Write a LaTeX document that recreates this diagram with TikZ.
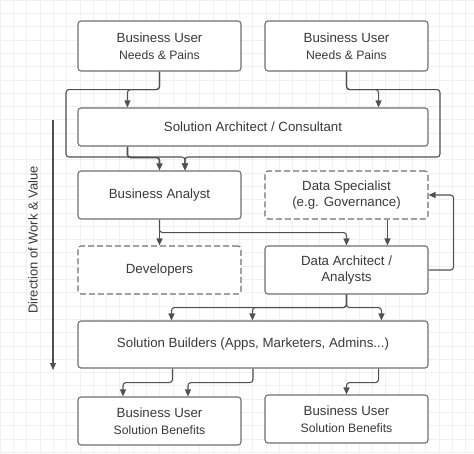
\documentclass[tikz,border=0pt]{standalone}
\usepackage{fontspec}
\setmainfont{Liberation Sans}
\usetikzlibrary{arrows.meta}

\definecolor{inkcol}{HTML}{3A3A3A}
\definecolor{framecol}{HTML}{707070}
\definecolor{linkcol}{HTML}{505050}
\definecolor{gridcol}{HTML}{F0F0F0}

\tikzset{
  box/.style={draw=framecol, line width=1.1pt, rounded corners=3pt, fill=white,
    text=inkcol, align=center, minimum width=163pt, minimum height=48pt,
    font=\fontsize{13.3}{16.5}\selectfont},
  widebox/.style={box, minimum width=350pt},
  dashbox/.style={box, dash pattern=on 6pt off 3pt},
  link/.style={draw=linkcol, line width=1.1pt, rounded corners=3pt,
    -{Triangle[length=7pt,width=6pt]}},
}
\newcommand{\sub}[1]{{\fontsize{12.2}{14.5}\selectfont #1}}

\begin{document}
\begin{tikzpicture}[x=1pt, y=-1pt]

\useasboundingbox (0,0) rectangle (474,453);
\fill[white] (0,0) rectangle (474,453);
\draw[gridcol, line width=0.6pt, step=13.3pt] (0,0) grid (474,453);

% Business users on top
\node[box, minimum height=50pt] (bu1) at (159.5,46) {Business User\\\sub{Needs \& Pains}};
\node[box, minimum height=50pt] (bu2) at (346.5,46) {Business User\\\sub{Needs \& Pains}};

% Consulting layer
\node[widebox, minimum height=38pt] (sa) at (253,127) {Solution Architect / Consultant};

% Analysis layer
\node[box] (ba) at (159.5,195) {Business Analyst};
\node[dashbox] (ds) at (346.5,195) {Data Specialist\\(e.g. Governance)};
\node[dashbox] (dev) at (159.5,270) {Developers};
\node[box] (da) at (346.5,270) {Data Architect /\\Analysts};

% Building layer
\node[widebox, minimum height=47pt] (sb) at (253,344.5) {Solution Builders (Apps, Marketers, Admins...)};

% Business users at the bottom
\node[box] (ub1) at (159.5,421) {Business User\\\sub{Solution Benefits}};
\node[box] (ub2) at (346.5,419) {Business User\\\sub{Solution Benefits}};

% Corners of the loop round the consultant
\coordinate (loopL) at (66,157);
\coordinate (loopR) at (440,157);

% Needs go to the consultant and round it to the analyst
\draw[link] (bu1.south) -- ++(0,18) -| ([xshift=50pt]sa.north west);
\draw[link] (bu2.south) -- ++(0,18) -| ([xshift=-50pt]sa.north east);
\draw[link] (bu1.south) -- ++(0,18) -| (loopL) -| ([xshift=25.5pt]ba.north);
\draw[link] (bu2.south) -- ++(0,18) -| (loopR) -| ([xshift=25.5pt]ba.north);
\draw[link, line width=1.6pt] ([xshift=50pt]sa.south west) -- ++(0,11) -| (ba.north);

% Analyst and data people
\draw[link] (ba.south) -- (dev.north);
\draw[link] (ba.south) -- ++(0,13) -| (da.north);
\draw[link] ([xshift=41pt]ds.south) -- ([xshift=41pt]da.north);
\draw[link] (da.east) -- ++(25,0) |- (ds.east);

% Down to the builders
\foreach \dx in {94,175,304} {
  \draw[link] (da.south) -- ++(0,13) -| ([xshift=\dx pt]sb.north west);
}

% Builders deliver the benefits
\draw[link] ([xshift=95pt]sb.south west) -- ++(0,14) -| ([xshift=-36.5pt]ub1.north);
\draw[link] (sb.south) -- ++(0,14) -| ([xshift=28.5pt]ub1.north);
\draw[link] ([xshift=-50pt]sb.south east) -- ++(0,14) -| (ub2.north);

% Direction of the flow
\coordinate (dirtop) at (53,120);
\coordinate (dirbot) at (53,370);
\draw[link] (dirtop) -- (dirbot);
\node[rotate=90, text=inkcol, font=\fontsize{13}{15}\selectfont] (dirlabel) at (33,240) {Direction of Work \& Value};

\end{tikzpicture}
\end{document}
